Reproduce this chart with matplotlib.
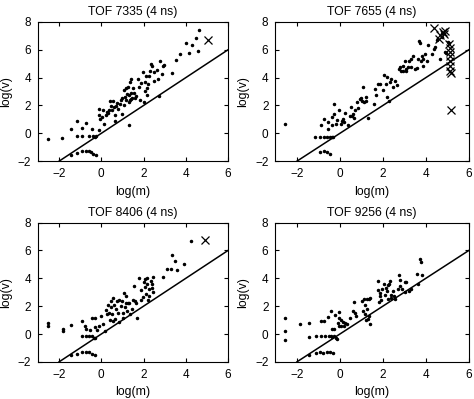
import numpy as np
import matplotlib.pyplot as plt

plt.rcParams['font.family'] = ['Liberation Sans', 'DejaVu Sans']

titles = ["TOF 7335 (4 ns)", "TOF 7655 (4 ns)", "TOF 8406 (4 ns)", "TOF 9256 (4 ns)"]

# TOF 7335
m1 = [-2.52, -1.84, -1.45, -1.13, -1.14, -0.92, -0.92, -0.73, -0.57, -0.45, -0.40, -0.32, -0.27,
      -0.11, -0.11, -0.11, -0.07, -1.45, -1.13, -0.89, -0.73, -0.59, -0.48, -0.37, -0.27,
      0.08, 0.14, 0.22, 0.28, 0.35, 0.41, 0.54, 0.50, 0.60, 0.63, 0.66, 0.69, 0.80, 0.88, 0.92,
      0.96, 1.00, 1.06, 1.09, 1.17, 1.17, 1.22, 1.26, 1.30, 1.30, 1.33, 1.34, 1.38, 1.39, 1.42,
      1.47, 1.52, 1.55, 1.58, 1.64, 1.74, 1.77, 1.83, 1.96, 2.03, 2.09, 2.12, 2.15, 2.18, 2.22,
      2.25, 2.31, 2.34, 2.42, 2.49, 2.52, 2.63, 2.68, 2.72, 2.80, 2.88, 2.93, 2.99, 3.36, 3.53,
      3.75, 3.99, 4.13, 4.31, 4.47, 4.56, 4.62, 0.02, 0.30, 0.45, 0.75, 1.12, 1.40, 1.90, 2.05]
v1 = [-0.42, -0.30, 0.30, 0.89, -0.21, 0.37, -0.18, 0.75, -0.21, 0.34, -0.21, -0.25, -0.21,
      0.22, 1.76, 1.30, 1.06, -1.57, -1.40, -1.28, -1.26, -1.28, -1.35, -1.45, -1.57,
      1.66, 0.70, 1.30, 1.54, 1.71, 2.33, 2.33, 1.66, 1.90, 1.30, 0.87, 1.95, 1.78, 2.09, 2.38,
      2.57, 1.42, 2.00, 3.10, 3.29, 2.43, 2.81, 3.33, 2.28, 0.63, 2.72, 2.43, 3.69, 3.91, 2.93,
      2.57, 3.26, 2.90, 2.52, 2.67, 3.91, 3.33, 2.43, 4.39, 2.26, 3.69, 4.15, 3.29, 2.74, 3.53,
      4.10, 4.48, 4.96, 4.84, 3.77, 4.44, 4.53, 3.91, 2.69, 5.18, 4.24, 4.84, 4.89, 4.32, 5.30,
      5.73, 6.47, 5.80, 6.37, 6.85, 5.92, 7.43, 1.20, 1.45, 1.95, 2.20, 2.60, 2.45, 3.60, 3.05]
xm1 = [5.07]
xv1 = [6.71]

# TOF 7655
m2 = [-2.54, -1.17, -0.94, -0.86, -0.75, -0.72, -0.59, -0.54, -0.53, -0.46, -0.38, -0.35, -0.35,
      -0.32, -0.26, -0.26, -0.19, -0.11, -0.03, 0.03, 0.10, 0.16, 0.21, 0.26, 0.37, 0.45, 0.50,
      0.56, 0.61, 0.66, 0.72, 0.80, 0.85, 0.93, 0.99, 1.06, 1.02, 1.14, 1.22, 1.22, 1.30, 1.57,
      1.65, 1.70, 1.76, 1.89, 2.00, 2.05, 2.13, 2.18, 2.21, 2.29, 2.34, 2.40, 2.48, 2.56, 2.64,
      2.74, 2.78, 2.85, 2.93, 2.93, 3.01, 3.06, 3.10, 3.17, 3.23, 3.30, 3.33, 3.41, 3.49, 3.57,
      3.62, 3.68, 3.73, 3.76, 3.81, 3.86, 3.89, 3.97, 4.05, 4.10, 4.29, 4.37, 4.45, 4.50, 4.64,
      4.74, 4.77, 4.90, 4.96, 5.01, 5.09, -0.93, -0.75, -0.59, -0.45]
v2 = [0.70, -0.29, -0.29, 0.60, -0.29, 1.04, -0.29, 0.29, 0.84, -0.29, -0.29, 1.18, 0.60,
      -0.29, 1.42, 2.10, 0.65, 0.94, 1.66, 0.70, 0.89, 1.01, 0.84, 1.49, 0.60, 1.25, 1.90,
      1.25, 1.37, 1.13, 1.66, 2.22, 1.81, 2.46, 2.53, 3.30, 2.34, 2.24, 2.63, 2.29, 1.08, 2.10,
      3.18, 2.77, 3.54, 3.54, 3.11, 4.22, 3.54, 4.02, 2.63, 2.34, 3.66, 3.90, 3.35, 3.78, 3.49,
      4.63, 4.75, 4.46, 4.87, 4.51, 5.18, 4.46, 4.63, 4.75, 5.18, 5.35, 4.75, 5.52, 4.63, 4.70,
      5.35, 6.63, 6.48, 5.23, 5.59, 4.87, 5.35, 5.71, 5.18, 6.31, 5.71, 6.07, 6.19, 6.67, 5.35,
      6.92, 7.20, 5.83, 5.76, 6.55, 6.48, -1.33, -1.28, -1.35, -1.47]
xm2 = [4.38, 4.61, 4.67, 4.80, 4.85, 4.90, 5.09, 5.12, 5.12, 5.12, 5.12, 5.12, 5.12, 5.17, 5.17]
xv2 = [7.59, 6.80, 7.04, 7.28, 7.16, 7.35, 6.43, 6.14, 5.83, 5.52, 5.18, 4.84, 4.51, 4.31, 1.66]

# TOF 8406
m3 = [-2.52, -2.52, -1.81, -1.81, -1.41, -1.45, -1.13, -0.89, -0.73, -0.59, -0.46, -0.30,
      -0.91, -0.91, -0.78, -0.73, -0.70, -0.57, -0.54, -0.45, -0.43, -0.35, -0.29, -0.30, -0.29,
      -0.19, -0.10, -0.03, 0.09, 0.19, 0.22, 0.28, 0.31, 0.36, 0.41, 0.44, 0.47, 0.50, 0.54,
      0.57, 0.61, 0.66, 0.69, 0.76, 0.81, 0.82, 0.85, 0.92, 0.98, 1.01, 1.04, 1.09, 1.12, 1.17,
      1.17, 1.23, 1.25, 1.30, 1.36, 1.44, 1.49, 1.55, 1.60, 1.65, 1.71, 1.80, 1.87, 1.90, 1.99,
      2.03, 2.06, 2.09, 2.12, 2.15, 2.18, 2.22, 2.25, 2.28, 2.34, 2.39, 2.41, 2.44, 2.47, 2.94,
      3.13, 3.31, 3.36, 3.48, 3.58, 3.94, 4.26]
v3 = [0.76, 0.57, 0.37, 0.21, 0.64, -1.52, -1.40, -1.28, -1.26, -1.30, -1.40, -1.54,
      0.93, -0.15, 0.61, -0.15, 0.33, -0.15, 0.28, 1.17, -0.15, -0.27, -0.27, 0.52, 1.14,
      0.28, 0.57, 1.29, 0.71, 0.21, 1.72, 1.41, 2.05, 1.53, 1.00, 2.36, 1.96, 1.41, 0.93,
      2.58, 2.05, 1.05, 1.81, 2.36, 1.53, 0.90, 2.44, 2.00, 2.34, 1.53, 1.12, 2.96, 1.96, 2.24,
      2.72, 1.62, 2.20, 2.24, 1.41, 1.81, 2.48, 3.44, 2.36, 2.20, 1.17, 4.02, 3.16, 2.48, 2.68,
      3.73, 3.97, 3.40, 2.89, 4.04, 3.56, 2.48, 3.25, 2.72, 3.80, 3.61, 3.32, 3.01, 4.09, 4.11,
      4.69, 4.64, 5.70, 5.27, 4.60, 5.00, 6.68]
xm3 = [4.91]
xv3 = [6.75]

# TOF 9256
m4 = [-2.54, -2.54, -2.54, -1.84, -1.42, -1.42, -1.42, -1.12, -1.12, -0.90, -0.90, -0.80, -0.74,
      -0.67, -0.61, -0.54, -0.51, -0.45, -0.42, -0.38, -0.42, -0.35, -0.32, -0.29, -0.26, -0.21,
      -0.16, -0.13, -0.10, -0.06, -0.03, -0.02, 0.03, 0.06, 0.13, 0.18, 0.26, 0.32, 0.45, 0.61,
      0.64, 0.70, 0.77, 1.02, 1.09, 1.12, 1.15, 1.18, 1.22, 1.25, 1.28, 1.31, 1.34, 1.34, 1.38,
      1.39, 1.78, 1.79, 1.82, 1.86, 1.89, 1.92, 1.98, 2.05, 2.11, 2.14, 2.21, 2.24, 2.26, 2.30,
      2.34, 2.37, 2.40, 2.45, 2.53, 2.56, 2.69, 2.77, 2.78, 2.82, 2.88, 3.01, 3.04, 3.09, 3.20,
      3.33, 3.57, 3.63, 3.74, 3.78, 3.81, -0.93]
v4 = [1.13, 0.22, -0.42, 0.72, 0.77, -0.19, -1.51, -0.17, -1.39, 0.94, -0.12, -1.39, 0.94,
      -0.12, -1.30, 1.20, -0.12, -1.30, -0.12, 0.36, 1.69, -0.19, -1.39, 0.36, -0.17, 1.37,
      -0.27, -0.36, 0.80, 1.18, 1.56, 0.60, 1.03, 0.55, 0.84, 0.60, 0.79, 0.72, 1.13, 1.69,
      2.30, 1.52, 1.33, 2.34, 1.69, 2.49, 2.05, 1.45, 0.99, 2.49, 1.81, 1.08, 1.33, 2.54, 0.72,
      2.59, 3.80, 3.15, 2.30, 2.73, 2.98, 2.47, 3.27, 3.56, 2.78, 3.32, 3.07, 2.54, 3.51, 3.56,
      3.80, 2.78, 2.61, 3.07, 2.73, 2.54, 3.27, 4.24, 3.87, 3.46, 3.27, 3.02, 3.75, 3.75, 3.07,
      3.22, 4.29, 3.58, 5.40, 5.16, 4.24, -1.30]
xm4 = []
xv4 = []

line_m = [-2, 6]

fig = plt.figure(figsize=(4.74, 3.99), dpi=100)
boxes = [[0.080, 0.596, 0.401, 0.349], [0.581, 0.596, 0.408, 0.349],
         [0.080, 0.093, 0.401, 0.349], [0.581, 0.093, 0.408, 0.349]]
data = [(m1, v1, xm1, xv1), (m2, v2, xm2, xv2), (m3, v3, xm3, xv3), (m4, v4, xm4, xv4)]

for box, title, (m, v, xm, xv) in zip(boxes, titles, data):
    ax = fig.add_axes(box)
    ax.plot(m, v, 'k.', markersize=3.0, linestyle='none')
    if xm:
        ax.plot(xm, xv, 'kx', markersize=5.5, markeredgewidth=0.9, linestyle='none')
    ax.plot(line_m, line_m, 'k-', linewidth=1.1)
    ax.set_xlim(-3, 6)
    ax.set_ylim(-2, 8)
    ax.set_xticks([-2, 0, 2, 4, 6])
    ax.set_yticks([-2, 0, 2, 4, 6, 8])
    ax.set_xticklabels(['\u22122', '0', '2', '4', '6'])
    ax.set_yticklabels(['\u22122', '0', '2', '4', '6', '8'])
    ax.tick_params(direction='in', top=True, right=True, length=3, labelsize=8.5, pad=5)
    ax.set_xlabel('log(m)', fontsize=8.8, labelpad=4)
    ax.set_ylabel('log(v)', fontsize=8.8, labelpad=4)
    ax.set_title(title, fontsize=8.8, pad=5)
    for s in ax.spines.values():
        s.set_linewidth(0.8)

fig.savefig('out.png', dpi=100)
